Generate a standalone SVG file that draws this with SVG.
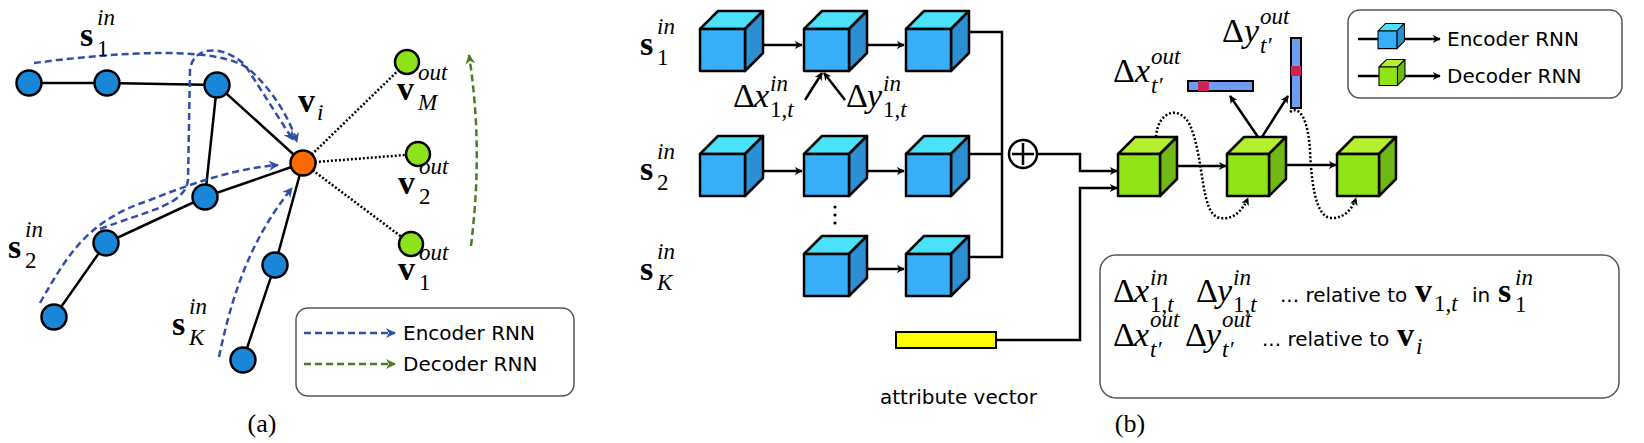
<svg xmlns="http://www.w3.org/2000/svg" width="1644" height="443" viewBox="0 0 1644 443">
<style>
.e{stroke:#000;stroke-width:2.5;fill:none}
.dot{stroke:#000;stroke-width:2.5;stroke-dasharray:2 2;fill:none}
.bd{stroke:#2f4fa8;stroke-width:2.5;stroke-dasharray:7 4;fill:none}
.gd{stroke:#4e7c22;stroke-width:2.5;stroke-dasharray:7 4;fill:none}
.bn{fill:#1a86d8;stroke:#000;stroke-width:2.5}
.gn{fill:#8ee21c;stroke:#000;stroke-width:2.5}
.m{font-family:"Liberation Serif",serif;font-size:34px;fill:#000}
.b{font-weight:bold}
.i{font-style:italic;font-size:23px}
.n{font-size:23px}
.s{font-family:"DejaVu Sans",sans-serif;font-size:20px;fill:#000}
.box{fill:#fff;stroke:#555;stroke-width:1.5}
.cap{font-family:"Liberation Serif",serif;font-size:26px;fill:#000}
</style>
<defs>
<marker id="ah" viewBox="0 0 10 10" refX="9" refY="5" markerWidth="8" markerHeight="8" orient="auto" markerUnits="userSpaceOnUse"><path d="M0,0 L10,5 L0,10 L3,5 z" fill="#000"/></marker>
<marker id="ab" viewBox="0 0 10 10" refX="9" refY="5" markerWidth="10" markerHeight="10" orient="auto" markerUnits="userSpaceOnUse"><path d="M0,0 L10,5 L0,10 L3,5 z" fill="#2f4fa8"/></marker>
<marker id="ag" viewBox="0 0 10 10" refX="9" refY="5" markerWidth="10" markerHeight="10" orient="auto" markerUnits="userSpaceOnUse"><path d="M0,0 L10,5 L0,10 L3,5 z" fill="#4e7c22"/></marker>
<g id="bc" stroke="#000" stroke-width="2.5" stroke-linejoin="round">
<polygon points="0,0 18,-18 63,-18 45,0" fill="#4ae2fa"/>
<polygon points="45,0 63,-18 63,24 45,42" fill="#2c8fd4"/>
<rect x="0" y="0" width="45" height="42" fill="#38aef8"/>
</g>
<g id="gc" stroke="#000" stroke-width="2.5" stroke-linejoin="round">
<polygon points="0,0 17,-17 59,-17 42,0" fill="#b6f02c"/>
<polygon points="42,0 59,-17 59,25 42,42" fill="#70b814"/>
<rect x="0" y="0" width="42" height="42" fill="#8ee414"/>
</g>
</defs>

<g id="connectors-a">
<path class="e" d="M29 83 L107 83 L217 85 L303 163 M217 85 L205 197 L303 163 M205 197 L106 243 L54 317 M303 163 L275 265 L243 360"/>
<path class="dot" d="M303 163 L407 62 M303 163 L418 154 M303 163 L411 244"/>
<path class="bd" marker-end="url(#ab)" d="M34 63 C120 52 220 45 250 70 C272 90 288 115 297 142"/>
<path class="bd" marker-end="url(#ab)" d="M100 229 C150 210 185 205 188 180 L190 70 C192 48 220 42 245 65 L293 140"/>
<path class="bd" marker-end="url(#ab)" d="M40 303 C70 250 90 220 150 200 C200 180 240 168 278 165"/>
<path class="bd" marker-end="url(#ab)" d="M219 357 C232 295 250 240 292 188"/>
<path class="gd" marker-end="url(#ag)" d="M471 246 C479 180 479 120 469 55"/>
</g>
<g id="a-nodes">
<circle id="n1" class="bn" cx="29" cy="83" r="12.5"/>
<circle id="n2" class="bn" cx="107" cy="83" r="12.5"/>
<circle id="n3" class="bn" cx="217" cy="85" r="12.5"/>
<circle id="n4" class="bn" cx="205" cy="197" r="12.5"/>
<circle id="n5" class="bn" cx="106" cy="243" r="12.5"/>
<circle id="n6" class="bn" cx="54" cy="317" r="12.5"/>
<circle id="n7" class="bn" cx="275" cy="265" r="12.5"/>
<circle id="n8" class="bn" cx="243" cy="360" r="12.5"/>
<circle id="vi" cx="303" cy="163" r="12.5" fill="#ff6a00" stroke="#000" stroke-width="2.5"/>
<circle id="vM" class="gn" cx="407" cy="62" r="12"/>
<circle id="v2" class="gn" cx="418" cy="154" r="12"/>
<circle id="v1" class="gn" cx="411" cy="244" r="12"/>
</g>
<g id="a-labels" class="m">
<text><tspan class="b" x="80" y="46">s</tspan><tspan class="i" x="97" y="25">in</tspan><tspan class="n" x="97" y="56">1</tspan></text>
<text><tspan class="b" x="8" y="258">s</tspan><tspan class="i" x="25" y="237">in</tspan><tspan class="n" x="25" y="268">2</tspan></text>
<text><tspan class="b" x="172" y="335">s</tspan><tspan class="i" x="189" y="314">in</tspan><tspan class="i" x="189" y="345">K</tspan></text>
<text><tspan class="b" x="298" y="112">v</tspan><tspan class="i" x="317" y="120">i</tspan></text>
<text><tspan class="b" x="397" y="100">v</tspan><tspan class="i" x="418" y="80">out</tspan><tspan class="i" x="418" y="110">M</tspan></text>
<text><tspan class="b" x="398" y="194">v</tspan><tspan class="i" x="419" y="174">out</tspan><tspan class="n" x="419" y="204">2</tspan></text>
<text><tspan class="b" x="398" y="280">v</tspan><tspan class="i" x="419" y="260">out</tspan><tspan class="n" x="419" y="290">1</tspan></text>
</g>
<g id="legend-a">
<rect class="box" x="296" y="308" width="278" height="88" rx="12"/>
<line class="bd" x1="304" y1="333" x2="395" y2="333" marker-end="url(#ab)"/>
<line class="gd" x1="304" y1="364" x2="395" y2="364" marker-end="url(#ag)"/>
<text class="s" x="403" y="340">Encoder RNN</text>
<text class="s" x="403" y="371">Decoder RNN</text>
</g>
<text class="cap" x="262" y="432" text-anchor="middle">(a)</text>

<g id="connectors-b">
<path class="e" marker-end="url(#ah)" d="M763 45 H802"/>
<path class="e" marker-end="url(#ah)" d="M867 45 H904"/>
<path class="e" marker-end="url(#ah)" d="M763 171 H802"/>
<path class="e" marker-end="url(#ah)" d="M867 171 H904"/>
<path class="e" marker-end="url(#ah)" d="M867 269 H904"/>
<path class="e" d="M969 32 H1002 V257 H969 M969 154 H1002"/>
<path class="e" stroke-width="2" marker-end="url(#ah)" d="M805 100 L822 73"/>
<path class="e" stroke-width="2" marker-end="url(#ah)" d="M845 100 L824 73"/>
<path class="e" marker-end="url(#ah)" d="M1037 154 H1080 V171 H1117"/>
<path class="e" marker-end="url(#ah)" d="M996 340 H1080 V188 H1117"/>
<path class="e" marker-end="url(#ah)" d="M1177 166 H1226"/>
<path class="e" marker-end="url(#ah)" d="M1287 165 H1336"/>
<path class="e" marker-end="url(#ah)" d="M1258 137 L1230 96"/>
<path class="e" marker-end="url(#ah)" d="M1262 137 L1288 96"/>
<path class="dot" marker-end="url(#ah)" d="M1156 137 C1158 110 1180 105 1190 125 C1205 160 1200 215 1220 218 C1232 220 1242 212 1248 198"/>
<path class="dot" marker-end="url(#ah)" d="M1290 112 C1300 105 1308 120 1310 150 C1312 200 1320 218 1332 218 C1344 218 1352 210 1356 198"/>
</g>
<g id="b-nodes">
<use href="#bc" x="700" y="29"/><use href="#bc" x="804" y="29"/><use href="#bc" x="906" y="29"/>
<use href="#bc" x="700" y="154"/><use href="#bc" x="804" y="154"/><use href="#bc" x="906" y="154"/>
<use href="#bc" x="804" y="254"/><use href="#bc" x="906" y="254"/>
<g id="sum"><circle cx="1023" cy="154" r="14" fill="#fff" stroke="#000" stroke-width="2.5"/><path class="e" d="M1012 154 H1034 M1023 143 V165"/></g>
<use href="#gc" x="1118" y="154"/><use href="#gc" x="1227" y="154"/><use href="#gc" x="1337" y="154"/>
<g id="dxbar"><rect x="1188" y="81" width="65" height="10" fill="#6d9ef0" stroke="#000" stroke-width="2"/><rect x="1198" y="81" width="11" height="10" fill="#cc2255"/></g>
<g id="dybar"><rect x="1291" y="38" width="10" height="70" fill="#6d9ef0" stroke="#000" stroke-width="2"/><rect x="1291" y="66" width="10" height="10" fill="#cc2255"/></g>
<rect id="attr" x="896" y="332" width="100" height="16" fill="#ffff00" stroke="#000" stroke-width="2"/>
<circle cx="835" cy="207" r="1.6"/><circle cx="835" cy="215" r="1.6"/><circle cx="835" cy="223" r="1.6"/>
</g>
<g id="b-labels" class="m">
<text><tspan class="b" x="640" y="55">s</tspan><tspan class="i" x="657" y="34">in</tspan><tspan class="n" x="657" y="65">1</tspan></text>
<text><tspan class="b" x="640" y="180">s</tspan><tspan class="i" x="657" y="159">in</tspan><tspan class="n" x="657" y="190">2</tspan></text>
<text><tspan class="b" x="640" y="280">s</tspan><tspan class="i" x="657" y="259">in</tspan><tspan class="i" x="657" y="290">K</tspan></text>
<text><tspan x="733" y="107">Δ</tspan><tspan font-style="italic" x="754" y="107">x</tspan><tspan class="i" x="770" y="91">in</tspan><tspan class="n" x="770" y="117">1,<tspan font-style="italic">t</tspan></tspan></text>
<text><tspan x="846" y="107">Δ</tspan><tspan font-style="italic" x="867" y="107">y</tspan><tspan class="i" x="883" y="91">in</tspan><tspan class="n" x="883" y="117">1,<tspan font-style="italic">t</tspan></tspan></text>
<text><tspan x="1113" y="82">Δ</tspan><tspan font-style="italic" x="1135" y="82">x</tspan><tspan class="i" x="1151" y="64">out</tspan><tspan class="i" x="1151" y="93">t′</tspan></text>
<text><tspan x="1222" y="42">Δ</tspan><tspan font-style="italic" x="1244" y="42">y</tspan><tspan class="i" x="1260" y="24">out</tspan><tspan class="i" x="1260" y="53">t′</tspan></text>
</g>
<text class="s" x="880" y="404">attribute vector</text>
<g id="legend-b">
<rect class="box" x="1348" y="10" width="274" height="88" rx="12"/>
<line class="e" stroke-width="2" x1="1358" y1="39" x2="1440" y2="39" marker-end="url(#ah)"/>
<use href="#bc" transform="translate(1378,31) scale(0.42)"/>
<line class="e" stroke-width="2" x1="1358" y1="76" x2="1440" y2="76" marker-end="url(#ah)"/>
<use href="#gc" transform="translate(1379,67) scale(0.44)"/>
<text class="s" x="1447" y="46">Encoder RNN</text>
<text class="s" x="1447" y="83">Decoder RNN</text>
</g>
<g id="textbox">
<rect class="box" x="1100" y="255" width="519" height="143" rx="16"/>
<text class="m"><tspan x="1113" y="302">Δ</tspan><tspan font-style="italic" x="1134" y="302">x</tspan><tspan class="i" x="1150" y="285">in</tspan><tspan class="n" x="1150" y="312">1,<tspan font-style="italic">t</tspan></tspan></text>
<text class="m"><tspan x="1196" y="302">Δ</tspan><tspan font-style="italic" x="1217" y="302">y</tspan><tspan class="i" x="1233" y="285">in</tspan><tspan class="n" x="1233" y="312">1,<tspan font-style="italic">t</tspan></tspan></text>
<text class="s" x="1280" y="302">... relative to</text>
<text class="m"><tspan class="b" x="1415" y="302">v</tspan><tspan class="n" x="1434" y="311">1,<tspan font-style="italic">t</tspan></tspan></text>
<text class="s" x="1472" y="302">in</text>
<text class="m"><tspan class="b" x="1498" y="302">s</tspan><tspan class="i" x="1515" y="285">in</tspan><tspan class="n" x="1515" y="312">1</tspan></text>
<text class="m"><tspan x="1113" y="346">Δ</tspan><tspan font-style="italic" x="1134" y="346">x</tspan><tspan class="i" x="1150" y="327">out</tspan><tspan class="i" x="1150" y="357">t′</tspan></text>
<text class="m"><tspan x="1185" y="346">Δ</tspan><tspan font-style="italic" x="1206" y="346">y</tspan><tspan class="i" x="1222" y="327">out</tspan><tspan class="i" x="1222" y="357">t′</tspan></text>
<text class="s" x="1262" y="346">... relative to</text>
<text class="m"><tspan class="b" x="1397" y="346">v</tspan><tspan class="i" x="1416" y="354">i</tspan></text>
</g>
<text class="cap" x="1130" y="432" text-anchor="middle">(b)</text>
</svg>
